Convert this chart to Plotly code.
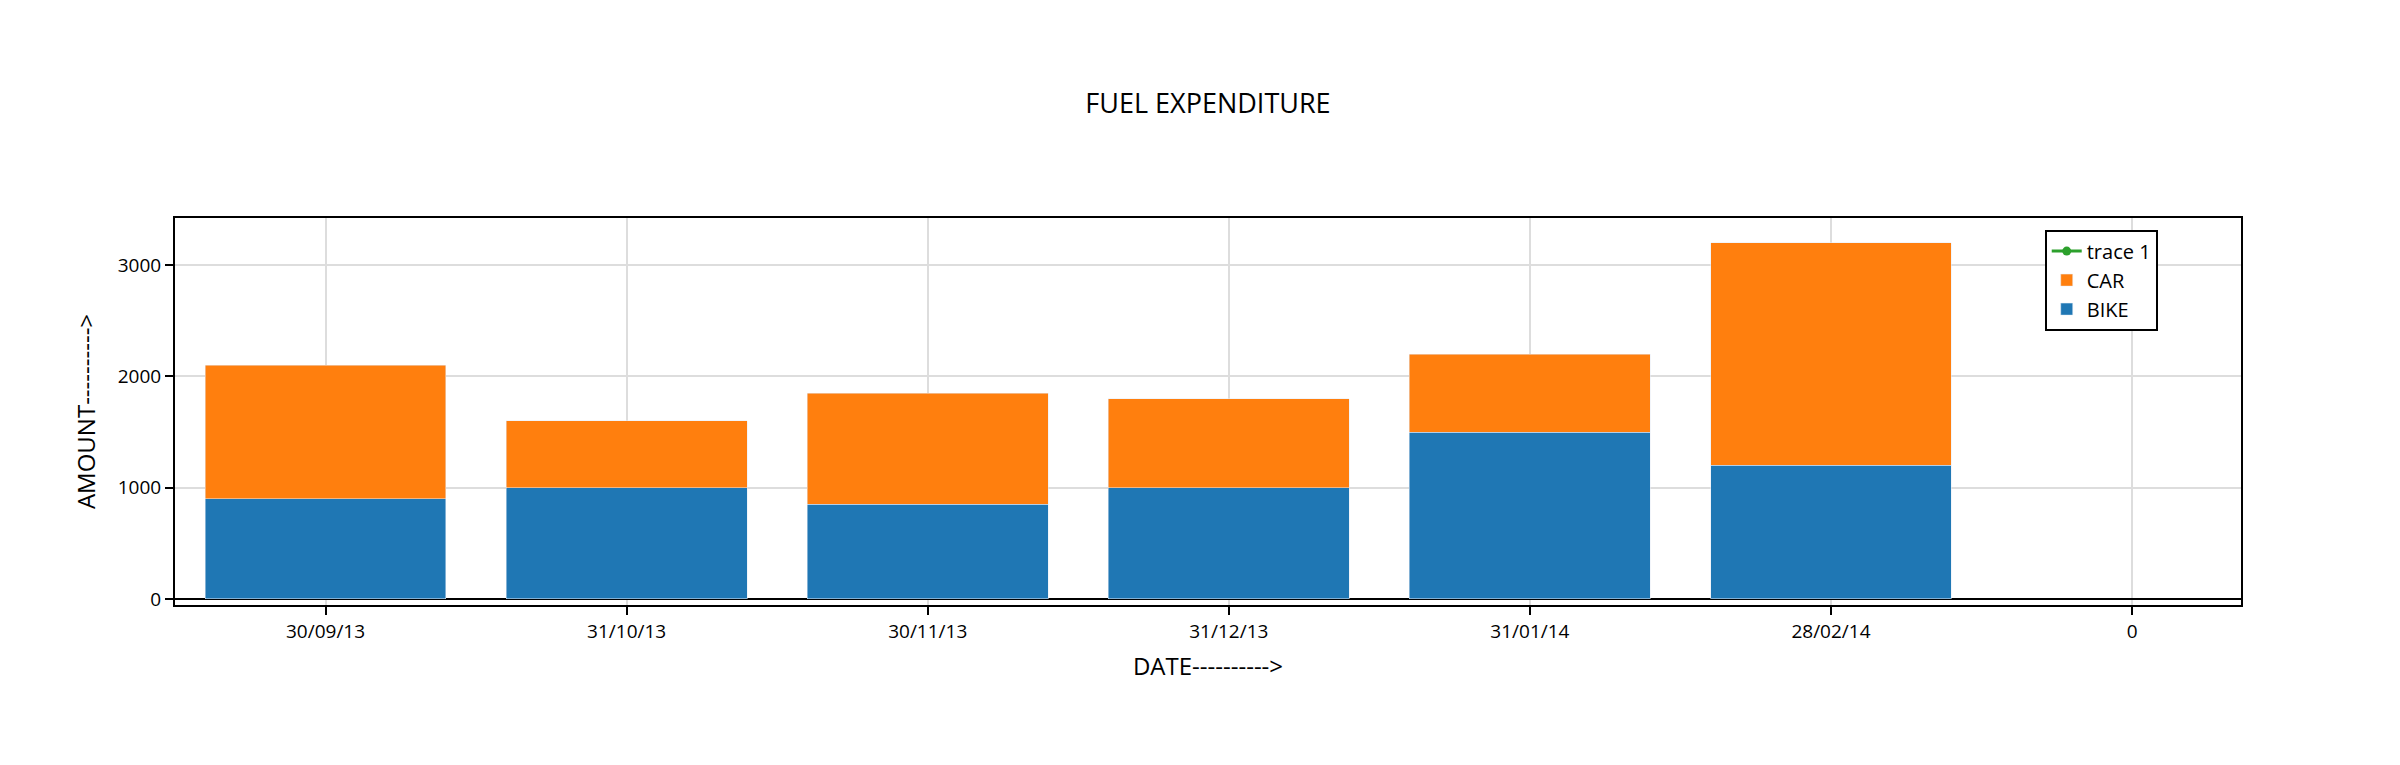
import plotly.graph_objects as go

dates = ["30/09/13", "31/10/13", "30/11/13", "31/12/13", "31/01/14", "28/02/14"]
bike = [900, 1000, 850, 1000, 1500, 1200]
car = [1200, 600, 1000, 800, 700, 2000]
trace1_x = ["0"]
trace1_y = [None]

fig = go.Figure()
fig.add_bar(x=dates, y=bike, name="BIKE", marker_color="#1f77b4")
fig.add_bar(x=dates, y=car, name="CAR", marker_color="#ff7f0e")
fig.add_scatter(x=trace1_x, y=trace1_y, name="trace 1", mode="lines+markers",
                line=dict(color="#2ca02c", width=3), marker=dict(size=9))

fig.update_layout(
    barmode="stack", bargap=0.2,
    width=2400, height=765,
    paper_bgcolor="white", plot_bgcolor="white",
    font=dict(family="Open Sans", size=19, color="black"),
    title=dict(text="FUEL EXPENDITURE", x=0.5, xanchor="center", y=0.875, yanchor="middle",
               font=dict(size=27)),
    margin=dict(l=167, r=167, t=210, b=168),
    legend=dict(x=0.905, y=0.97, xanchor="left", yanchor="top", bordercolor="black",
                borderwidth=2, font=dict(size=20), bgcolor="white"),
)
fig.update_xaxes(title=dict(text="DATE---------->", font=dict(size=24)),
                 showline=True, linecolor="black", linewidth=2, mirror=True,
                 ticks="outside", ticklen=8, tickwidth=2, tickcolor="black",
                 showgrid=True, gridcolor="#dddddd", gridwidth=2, type="category",
                 categoryorder="array", categoryarray=dates + trace1_x)
fig.update_yaxes(title=dict(text="AMOUNT---------->", font=dict(size=24)),
                 range=[-54, 3423], dtick=1000,
                 showline=True, linecolor="black", linewidth=2, mirror=True,
                 ticks="outside", ticklen=8, tickwidth=2, tickcolor="black",
                 showgrid=True, gridcolor="#dddddd", gridwidth=2,
                 zeroline=True, zerolinecolor="black", zerolinewidth=2)
fig.write_html("out.html")
